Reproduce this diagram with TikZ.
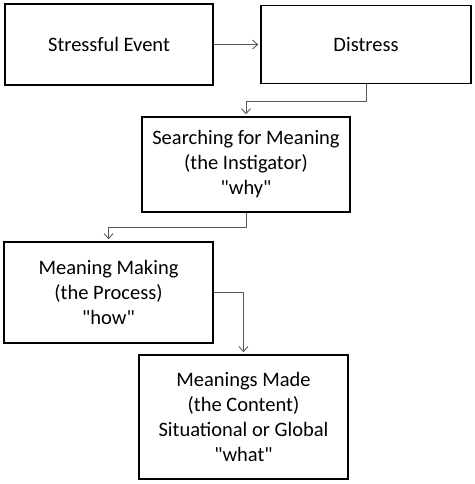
\documentclass[tikz,border=0pt]{standalone}
\usepackage{fontspec}
\setmainfont{Carlito}[Ligatures=TeXOff]
\usetikzlibrary{arrows.meta}
\begin{document}
\begin{tikzpicture}[x=1pt,y=-1pt,
	box/.style={draw=black,line width=1.5pt,align=center,inner sep=0pt,font=\fontsize{20.5}{25}\selectfont},
	conn/.style={draw=black!65,line width=0.9pt,-{Straight Barb[length=5pt,width=9pt]},shorten >=2pt}]
				\useasboundingbox (0,0) rectangle (474,484);
				\node[box,minimum width=208pt,minimum height=81pt] (se) at (109,44.5) {Stressful Event};
				\node[box,minimum width=210pt,minimum height=78pt] (di) at (366,44.5) {Distress};
				\node[box,minimum width=208pt,minimum height=95pt] (sm) at (246,164.5) {Searching for Meaning\\(the Instigator)\\"why"};
				\node[box,minimum width=209pt,minimum height=101pt] (mm) at (108.5,292.5) {Meaning Making\\(the Process)\\"how"};
				\node[box,minimum width=209pt,minimum height=124pt] (md) at (243.5,417) {Meanings Made\\(the Content)\\Situational or Global\\"what"};
				\draw[conn] (se.east) -- (di.west);
				\draw[conn] (di.south) -- ++(0,17) -| (sm.north);
				\draw[conn] (sm.south) -- ++(0,15) -| (mm.north);
				\draw[conn] (mm.east) -| (md.north);
\end{tikzpicture}
\end{document}
